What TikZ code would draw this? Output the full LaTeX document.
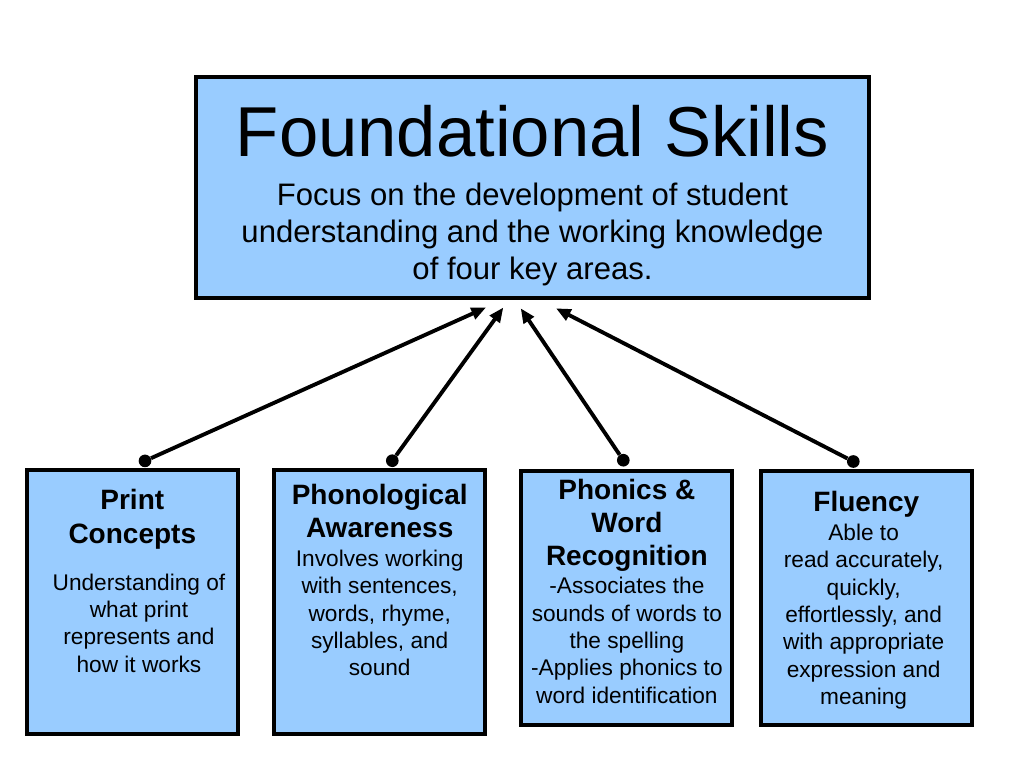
\documentclass[tikz,border=0pt]{standalone}
\usepackage{fontspec}
\setmainfont{Liberation Sans}
\usepackage{xcolor}
\usepackage{tikz}
\usetikzlibrary{positioning, arrows.meta, calc}

\definecolor{skyblue}{HTML}{99CCFF}

\begin{document}
\begin{tikzpicture}[
		x=0.75pt, y=0.75pt,
		topbox/.style={rectangle, draw, line width=3pt, fill=skyblue, minimum width=504.75pt, minimum height=165.4pt, inner sep=0pt, outer sep=0pt},
		skill/.style={rectangle, draw, line width=3pt, fill=skyblue, minimum width=158.25pt, inner sep=0pt, outer sep=0pt},
		bigtitle/.style={font=\fontsize{53}{60}\selectfont, inner sep=0pt},
		subtitle/.style={font=\fontsize{23.3}{27.75}\selectfont, align=center, inner sep=0pt},
		head/.style={font=\fontsize{21}{25}\selectfont\bfseries, align=center, inner sep=0pt},
		body/.style={font=\fontsize{17}{20.5}\selectfont, align=center, inner sep=0pt},
		dot/.style={circle, fill=black, inner sep=0pt, minimum size=9.5pt},
		link/.style={-{Triangle[length=11pt, width=9pt]}, line width=2.9pt}
		]

		\useasboundingbox (0,0) rectangle (1024,-768);

		% main box
		\node[topbox] (found) at (532.5,-187.25) {};
		\node[bigtitle, below=21pt of found.north] (found title) {Foundational Skills};
		\node[subtitle, below=18.9pt of found title] (found text) {Focus on the development of student\\understanding and the working knowledge\\of four key areas.};

		% the four key areas
		\node[skill, minimum height=198pt] (print) at (132.3,-602) {};
		\node[skill, minimum height=198pt] (phono) at (379.7,-602) {};
		\node[skill, minimum height=190.5pt] (phonics) at (626.9,-597.5) {};
		\node[skill, minimum height=190.5pt] (fluency) at (866.3,-597.8) {};

		\node[head, below=14.4pt of print.north] (print head) {Print\\Concepts};
		\node[body, below=18.3pt of print head, xshift=5pt] (print body) {Understanding of\\what print\\represents and\\how it works};

		\node[head, below=10.5pt of phono.north] (phono head) {Phonological\\Awareness};
		\node[body, below=8.6pt of phono head] (phono body) {Involves working\\with sentences,\\words, rhyme,\\syllables, and\\sound};

		\node[head, below=6pt of phonics.north] (phonics head) {Phonics \&\\Word\\Recognition};
		\node[body, below=4pt of phonics head] (phonics body) {-Associates the\\sounds of words to\\the spelling\\-Applies phonics to\\word identification};

		\node[head, below=15pt of fluency.north] (fluency head) {Fluency};
		\node[body, below=4.8pt of fluency head, xshift=-2pt] (fluency body) {Able to\\read accurately,\\quickly,\\effortlessly, and\\with appropriate\\expression and\\meaning};

		% connectors
		\node[dot] (print dot) at ($(print.north)+(12.7,9.1)$) {};
		\node[dot] (phono dot) at ($(phono.north)+(12.6,9.3)$) {};
		\node[dot] (phonics dot) at ($(phonics.north)+(-3.6,10.3)$) {};
		\node[dot] (fluency dot) at ($(fluency.north)+(-13,9.3)$) {};

		\coordinate (tip1) at ($(found.south)+(-46.5,-10)$);
		\coordinate (tip2) at ($(found.south)+(-29.2,-10)$);
		\coordinate (tip3) at ($(found.south)+(-11.8,-10.8)$);
		\coordinate (tip4) at ($(found.south)+(23.5,-10.8)$);

		\draw[link] (print dot) -- (tip1);
		\draw[link] (phono dot) -- (tip2);
		\draw[link] (phonics dot) -- (tip3);
		\draw[link] (fluency dot) -- (tip4);
	\end{tikzpicture}
\end{document}
